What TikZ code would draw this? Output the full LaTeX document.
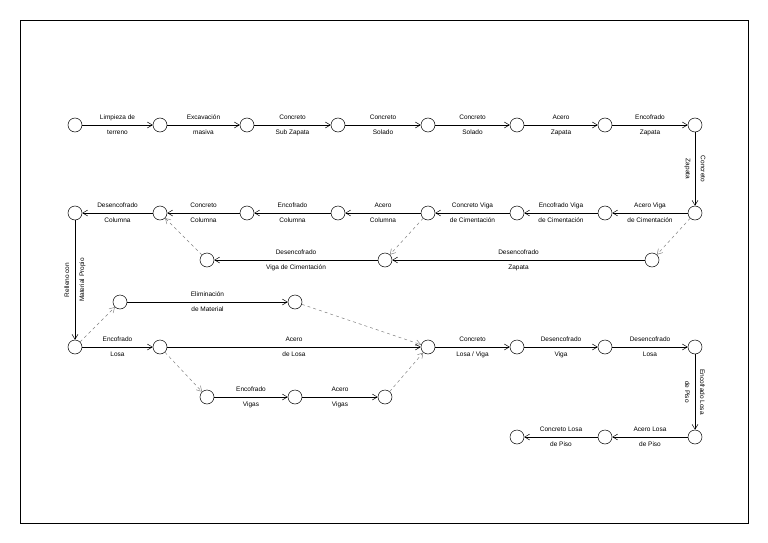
\documentclass[tikz,border=0pt]{standalone}
\usepackage{fontspec}
\setmainfont{Liberation Sans}
\usetikzlibrary{arrows.meta}
\begin{document}
\begin{tikzpicture}[x=1pt,y=-1pt,
  ev/.style={circle,draw,minimum size=14pt,inner sep=0pt,line width=0.5pt},
  act/.style={draw,line width=0.6pt,-{Straight Barb[length=5pt,width=6pt,line width=0.5pt]}},
  dum/.style={draw,gray,dashed,line width=0.5pt,-{Straight Barb[length=5pt,width=6pt,line width=0.5pt]}},
  lab/.style={font=\fontsize{6.5}{15}\selectfont,align=center,inner sep=0pt,text=black}]
\useasboundingbox (0,0) rectangle (768,543);
\draw[line width=0.6pt] (20,20) rectangle (748,523);
\foreach \n/\x in {a1/75,a2/160,a3/247,a4/338,a5/428,a6/517,a7/605,a8/695} \node[ev] (\n) at (\x,125) {};
\foreach \n/\x in {b1/75,b2/160,b3/247,b4/338,b5/428,b6/517,b7/605,b8/695} \node[ev] (\n) at (\x,213) {};
\foreach \n/\x in {c1/207,c2/385,c3/652} \node[ev] (\n) at (\x,260) {};
\foreach \n/\x in {d1/120,d2/295} \node[ev] (\n) at (\x,302) {};
\foreach \n/\x in {e1/75,e2/160,e3/428,e4/517,e5/605,e6/695} \node[ev] (\n) at (\x,347) {};
\foreach \n/\x in {f1/207,f2/295,f3/385} \node[ev] (\n) at (\x,397) {};
\foreach \n/\x in {g1/517,g2/605,g3/695} \node[ev] (\n) at (\x,437) {};
\path[act] (a1) -- node[lab]{Limpieza de\\terreno} (a2);
\path[act] (a2) -- node[lab]{Excavación\\masiva} (a3);
\path[act] (a3) -- node[lab]{Concreto\\Sub Zapata} (a4);
\path[act] (a4) -- node[lab]{Concreto\\Solado} (a5);
\path[act] (a5) -- node[lab]{Concreto\\Solado} (a6);
\path[act] (a6) -- node[lab]{Acero\\Zapata} (a7);
\path[act] (a7) -- node[lab]{Encofrado\\Zapata} (a8);
\path[act] (a8) -- node[lab,rotate=-90]{Concreto\\Zapata} (b8);
\path[act] (b8) -- node[lab]{Acero Viga\\de Cimentación} (b7);
\path[act] (b7) -- node[lab]{Encofrado Viga\\de Cimentación} (b6);
\path[act] (b6) -- node[lab]{Concreto Viga\\de Cimentación} (b5);
\path[act] (b5) -- node[lab]{Acero\\Columna} (b4);
\path[act] (b4) -- node[lab]{Encofrado\\Columna} (b3);
\path[act] (b3) -- node[lab]{Concreto\\Columna} (b2);
\path[act] (b2) -- node[lab]{Desencofrado\\Columna} (b1);
\path[dum] (b8) -- (c3);
\path[dum] (b5) -- (c2);
\path[dum] (c1) -- (b2);
\path[act] (c3) -- node[lab]{Desencofrado\\Zapata} (c2);
\path[act] (c2) -- node[lab]{Desencofrado\\Viga de Cimentación} (c1);
\path[act] (b1) -- node[lab,rotate=90]{Relleno con\\Material Propio} (e1);
\path[dum] (e1) -- (d1);
\path[act] (d1) -- node[lab]{Eliminación\\de Material} (d2);
\path[dum] (d2) -- (e3);
\path[act] (e1) -- node[lab]{Encofrado\\Losa} (e2);
\path[act] (e2) -- node[lab]{Acero\\de Losa} (e3);
\path[dum] (e2) -- (f1);
\path[act] (f1) -- node[lab]{Encofrado\\Vigas} (f2);
\path[act] (f2) -- node[lab]{Acero\\Vigas} (f3);
\path[dum] (f3) -- (e3);
\path[act] (e3) -- node[lab]{Concreto\\Losa / Viga} (e4);
\path[act] (e4) -- node[lab]{Desencofrado\\Viga} (e5);
\path[act] (e5) -- node[lab]{Desencofrado\\Losa} (e6);
\path[act] (e6) -- node[lab,rotate=-90]{Encofrado Losa\\de Piso} (g3);
\path[act] (g3) -- node[lab]{Acero Losa\\de Piso} (g2);
\path[act] (g2) -- node[lab]{Concreto Losa\\de Piso} (g1);
\end{tikzpicture}
\end{document}
